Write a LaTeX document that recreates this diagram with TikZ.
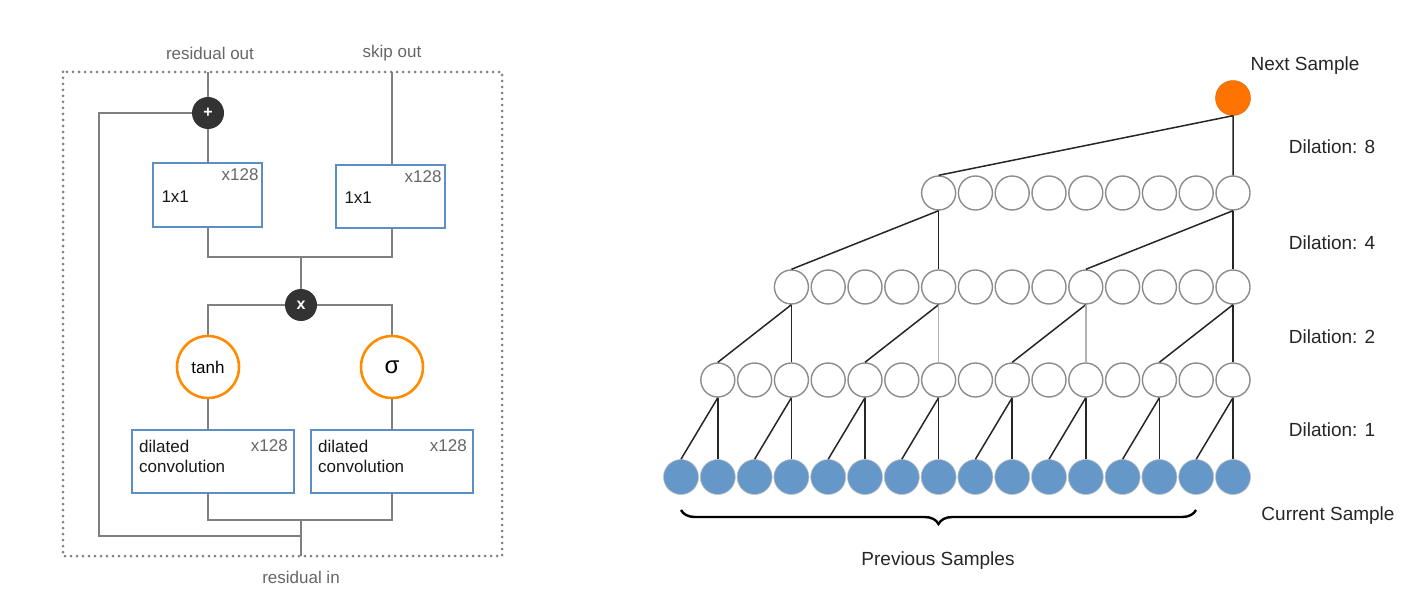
\documentclass[tikz,border=0pt]{standalone}
\usepackage{fontspec}
\setmainfont{Liberation Sans}
\usetikzlibrary{decorations.pathreplacing}
\begin{document}
\begin{tikzpicture}[x=1pt,y=-1pt,
  ln/.style={draw=black!50,line width=2.4pt},
  box/.style={line width=2.4pt,fill=white},
  op/.style={circle,fill=black!80,text=white,minimum size=32pt,inner sep=0,font=\fontsize{16}{16}\selectfont\bfseries},
  act/.style={circle,draw=orange!90!yellow,line width=2.6pt,fill=white,minimum size=62pt,inner sep=0,font=\fontsize{17}{17}\selectfont},
  lab/.style={font=\fontsize{17}{17}\selectfont,text=black!60},
  btxt/.style={font=\fontsize{17}{17}\selectfont,text=black!90},
  nd/.style={circle,draw=black!45,line width=1.4pt,fill=white,minimum size=34pt,inner sep=0},
  inp/.style={circle,draw=black!25,line width=0.6pt,minimum size=35pt,inner sep=0},
  wl/.style={draw=black!85,line width=1.5pt},
  rl/.style={font=\fontsize{19}{19}\selectfont,text=black!85}]
\useasboundingbox (0,0) rectangle (1422,599);
\definecolor{bx}{RGB}{92,143,200}
\definecolor{fillb}{RGB}{101,152,201}
\tikzset{box/.append style={draw=bx},inp/.append style={fill=fillb}}
% left block
\draw[black!50,line width=3pt,line cap=round,dash pattern=on 0pt off 6pt] (63,72) rectangle (502,556);
\node[lab] (ro) at (210,53) {residual out};
\node[lab] (so) at (392,53) {skip out};
\node[lab] (ri) at (301,577) {residual in};
\coordinate (top1) at (208,72);
\coordinate (top2) at (392,72);
\coordinate (bot) at (301,556);
\draw[box] (153,163) rectangle (262,227);
\draw[box] (336,165) rectangle (445,228);
\coordinate (b1t) at (208,163); \coordinate (b1b) at (208,227);
\coordinate (b2t) at (392,165); \coordinate (b2b) at (392,228);
\node[btxt,anchor=west] at (158,197) {1x1};
\node[lab,anchor=north east] at (262,165) {x128};
\node[btxt,anchor=west] at (341,198) {1x1};
\node[lab,anchor=north east] at (445,167) {x128};
\draw[box] (132,430) rectangle (294,493);
\draw[box] (311,430) rectangle (473,493);
\coordinate (d1t) at (208,430); \coordinate (d1b) at (208,493);
\coordinate (d2t) at (392,430); \coordinate (d2b) at (392,493);
\node[btxt,anchor=north west,align=left,inner sep=0,font=\fontsize{17}{20}\selectfont] at (139,440) {dilated\\convolution};
\node[lab,anchor=north east,inner sep=0] at (288,439) {x128};
\node[btxt,anchor=north west,align=left,inner sep=0,font=\fontsize{17}{20}\selectfont] at (318,440) {dilated\\convolution};
\node[lab,anchor=north east,inner sep=0] at (467,439) {x128};
\draw[ln] (top1) -- (b1t);
\draw[ln] (top2) -- (b2t);
\draw[ln] (b1b) |- (301,257) -| (b2b);
\draw[ln] (d1b) |- (301,520) -| (d2b);
\draw[ln] (bot) -- (301,520);
\draw[ln] (301,536) -| (99,113) -- (208,113);
\node[op] (plus) at (208,113) {+};
\node[op] (mul) at (301,305) {x};
\draw[ln] (301,257) -- (mul);
\draw[ln] (mul) -| (208,340);
\draw[ln] (mul) -| (392,340);
\node[act] (tanh) at (208,367) {tanh};
\node[act,font=\fontsize{24}{24}\selectfont] (sig) at (392,367) {σ};
\draw[ln] (tanh) -- (d1t);
\draw[ln] (sig) -- (d2t);
% right network
\foreach \i in {0,...,15} \node[inp] (a\i) at (681+36.8*\i,477) {};
\foreach \i in {1,...,15} \node[nd] (b\i) at (681+36.8*\i,380) {};
\foreach \i in {3,...,15} \node[nd] (c\i) at (681+36.8*\i,287) {};
\foreach \i in {7,...,15} \node[nd] (d\i) at (681+36.8*\i,193) {};
\node[circle,draw=orange!80!black,fill=orange!90!red,minimum size=35pt,inner sep=0] (out) at (1233,98) {};
\foreach \i [evaluate=\i as \j using int(\i-1)] in {1,3,...,15} {
  \draw[wl] (b\i.south) -- (a\j.north);
  \draw[wl] (b\i.south) -- (a\i.north);}
\foreach \i/\j/\g in {3/1/black!85,7/5/black!30,11/9/black!30,15/13/black!85} {
  \draw[wl] (c\i.south) -- (b\j.north);
  \draw[wl,draw=\g] (c\i.south) -- (b\i.north);}
\foreach \i/\j in {7/3,15/11} {
  \draw[wl] (d\i.south) -- (c\j.north);
  \draw[wl] (d\i.south) -- (c\i.north);}
\draw[wl] (out.south) -- (d7.north);
\draw[wl] (out.south) -- (d15.north);
\node[rl] (ns) at (1305,66) {Next Sample};
\node[rl] (l8) at (1332,147) {Dilation: 8};
\node[rl] (l4) at (1332,243) {Dilation: 4};
\node[rl] (l2) at (1332,337) {Dilation: 2};
\node[rl] (l1) at (1332,430) {Dilation: 1};
\node[rl] (cs) at (1328,516) {Current Sample};
\node[rl] (ps) at (938,561) {Previous Samples};
\draw[black,line width=2.4pt,decorate,decoration={brace,amplitude=14pt,mirror}] (681,510) -- (1196,510);
\end{tikzpicture}
\end{document}
